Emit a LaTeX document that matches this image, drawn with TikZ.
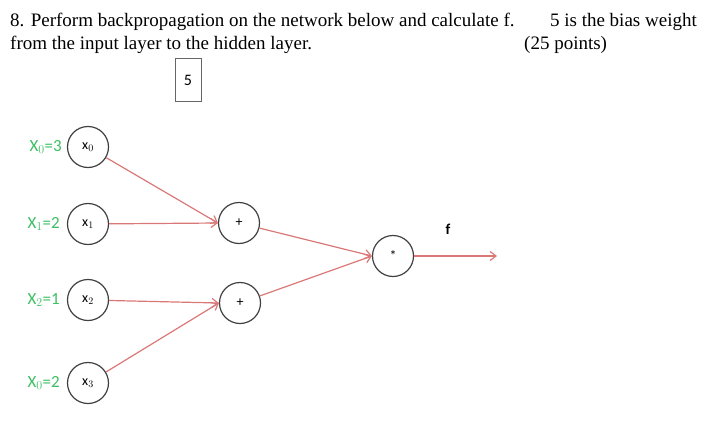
\documentclass[tikz,border=0pt]{standalone}
\usepackage{fontspec}
\setmainfont{Liberation Serif}
\newfontfamily\carl{Carlito}
\usetikzlibrary{arrows.meta}
\begin{document}
\begin{tikzpicture}[x=1pt,y=-1pt,
  neuron/.style={circle,draw=black!75,line width=1.2pt,minimum size=41pt,inner sep=0pt,font=\carl\fontsize{14}{14}\selectfont},
  edge/.style={draw={rgb,255:red,218;green,120;blue,120},line width=1.2pt,-{Straight Barb[length=6pt,width=9pt]}},
  lab/.style={font=\carl\fontsize{17}{17}\selectfont,text={rgb,255:red,60;green,190;blue,100},anchor=east,inner sep=0pt},
  txt/.style={font=\fontsize{19}{21}\selectfont,inner sep=0pt}]
\useasboundingbox (0,0) rectangle (717,447);
\node[txt,anchor=base west] (t1) at (10,26) {8. Perform backpropagation on the network below and calculate f.};
\node[txt,anchor=base east] (t1b) at (697,26) {5 is the bias weight};
\node[txt,anchor=base west] (t2) at (10,49) {from the input layer to the hidden layer.};
\node[txt,anchor=base west] (t2b) at (524,49) {(25 points)};
\node[draw=black!60,line width=0.8pt,minimum width=26pt,minimum height=43pt,font=\carl\fontsize{16}{16}\selectfont] (b) at (188,80) {5};
\node[neuron] (x0) at (88,147) {x$_0$};
\node[neuron] (x1) at (88,224) {x$_1$};
\node[neuron] (x2) at (88,300) {x$_2$};
\node[neuron] (x3) at (88,383) {x$_3$};
\node[neuron] (p1) at (239,223) {+};
\node[neuron] (p2) at (240,303) {+};
\node[neuron] (s) at (393,256) {*};
\coordinate (e) at (497,256);
\node[font=\carl\bfseries\fontsize{15}{15}\selectfont] (f) at (448,229) {f};
\node[lab] (l0) at (62,147) {X$_0$=3};
\node[lab] (l1) at (60,224) {X$_1$=2};
\node[lab] (l2) at (60,300) {X$_2$=1};
\node[lab] (l3) at (60,383) {X$_0$=2};
\draw[edge] (x0) -- (p1.west);
\draw[edge] (x1) -- (p1.west);
\draw[edge] (x2) -- (p2.west);
\draw[edge] (x3) -- (p2.west);
\draw[edge] (p1) -- (s.west);
\draw[edge] (p2) -- (s.west);
\draw[edge] (s) -- (e);
\end{tikzpicture}
\end{document}
